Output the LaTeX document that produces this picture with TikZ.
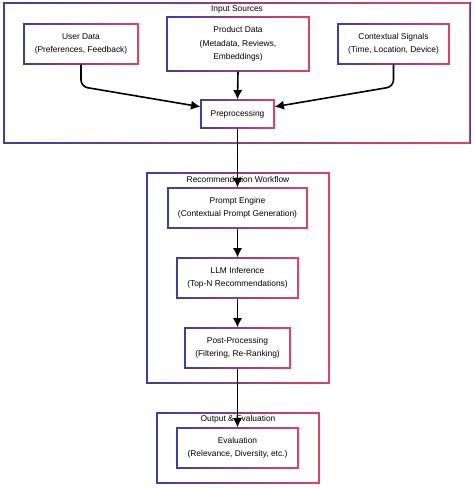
\documentclass[tikz,border=0pt]{standalone}
\usepackage{fontspec}
\setmainfont{Liberation Sans}
\usetikzlibrary{arrows.meta,fadings}

\definecolor{gblue}{RGB}{62,62,165}
\definecolor{gred}{RGB}{228,66,98}

\tikzfading[name=fade in right, left color=transparent!100, right color=transparent!0]

\tikzset{
	gframe/.style={draw=gblue, line width=0.9pt, postaction={draw=gred, line width=0.9pt, path fading=fade in right}},
	box/.style={gframe, align=center, inner sep=0pt, font=\fontsize{6.3}{10}\selectfont},
	frametitle/.style={inner sep=0.75pt, font=\fontsize{6.3}{8}\selectfont},
	arr/.style={-{Latex[length=7pt,width=7pt]}, line width=1.2pt},
}

\begin{document}
\begin{tikzpicture}[x=0.75pt,y=0.75pt,yscale=-1,xscale=1]
	\useasboundingbox (0,0) rectangle (474,488);
	
	%Shape: Rectangle [group frames]
	\draw (237,73) node [gframe, minimum width=349.5pt, minimum height=105pt] (src) {};
	\draw (238,278) node [gframe, minimum width=136.5pt, minimum height=157.5pt] (wf) {};
	\draw (238,448) node [gframe, minimum width=121.5pt, minimum height=52.5pt] (out) {};
	
	% Text Node
	\draw (237,9.5) node [frametitle] (srct) {Input Sources};
	% Text Node
	\draw (238,179.5) node [frametitle] (wft) {Recommendation Workflow};
	% Text Node
	\draw (238,419.5) node [frametitle] (outt) {Output \& Evaluation};
	
	%Shape: Rectangle [inputs]
	\draw (81,44) node [box, minimum width=85.5pt, minimum height=30pt] (ud) {User Data\\(Preferences, Feedback)};
	\draw (238,44) node [box, minimum width=106.5pt, minimum height=40.5pt] (pd) {Product Data\\(Metadata, Reviews,\\Embeddings)};
	\draw (393.5,44) node [box, minimum width=83.25pt, minimum height=30pt] (cs) {Contextual Signals\\(Time, Location, Device)};
	\draw (237.5,114) node [box, minimum width=54.75pt, minimum height=21pt] (pre) {Preprocessing};
	
	%Shape: Rectangle [workflow]
	\draw (237.5,208) node [box, minimum width=104.25pt, minimum height=30pt] (pe) {Prompt Engine\\(Contextual Prompt Generation)};
	\draw (237.5,278) node [box, minimum width=90.75pt, minimum height=30pt] (llm) {LLM Inference\\(Top-N Recommendations)};
	\draw (237.5,348) node [box, minimum width=78.75pt, minimum height=30pt] (post) {Post-Processing\\(Filtering, Re-Ranking)};
	
	%Shape: Rectangle [output]
	\draw (237.5,448) node [box, minimum width=90.75pt, minimum height=30pt] (ev) {Evaluation\\(Relevance, Diversity, etc.)};
	
	%Straight Lines
	\draw [arr, rounded corners=5] (ud.south) -- ++(0,22) -- (pre.169);
	\draw [arr, rounded corners=5] (cs.south) -- ++(0,22) -- (pre.11);
	\draw [arr] (pd.south) -- (pre.north);
	\draw [arr] (pre.south) -- (pe.north);
	\draw [arr] (pe.south) -- (llm.north);
	\draw [arr] (llm.south) -- (post.north);
	\draw [arr] (post.south) -- (ev.north);
	
\end{tikzpicture}
\end{document}
